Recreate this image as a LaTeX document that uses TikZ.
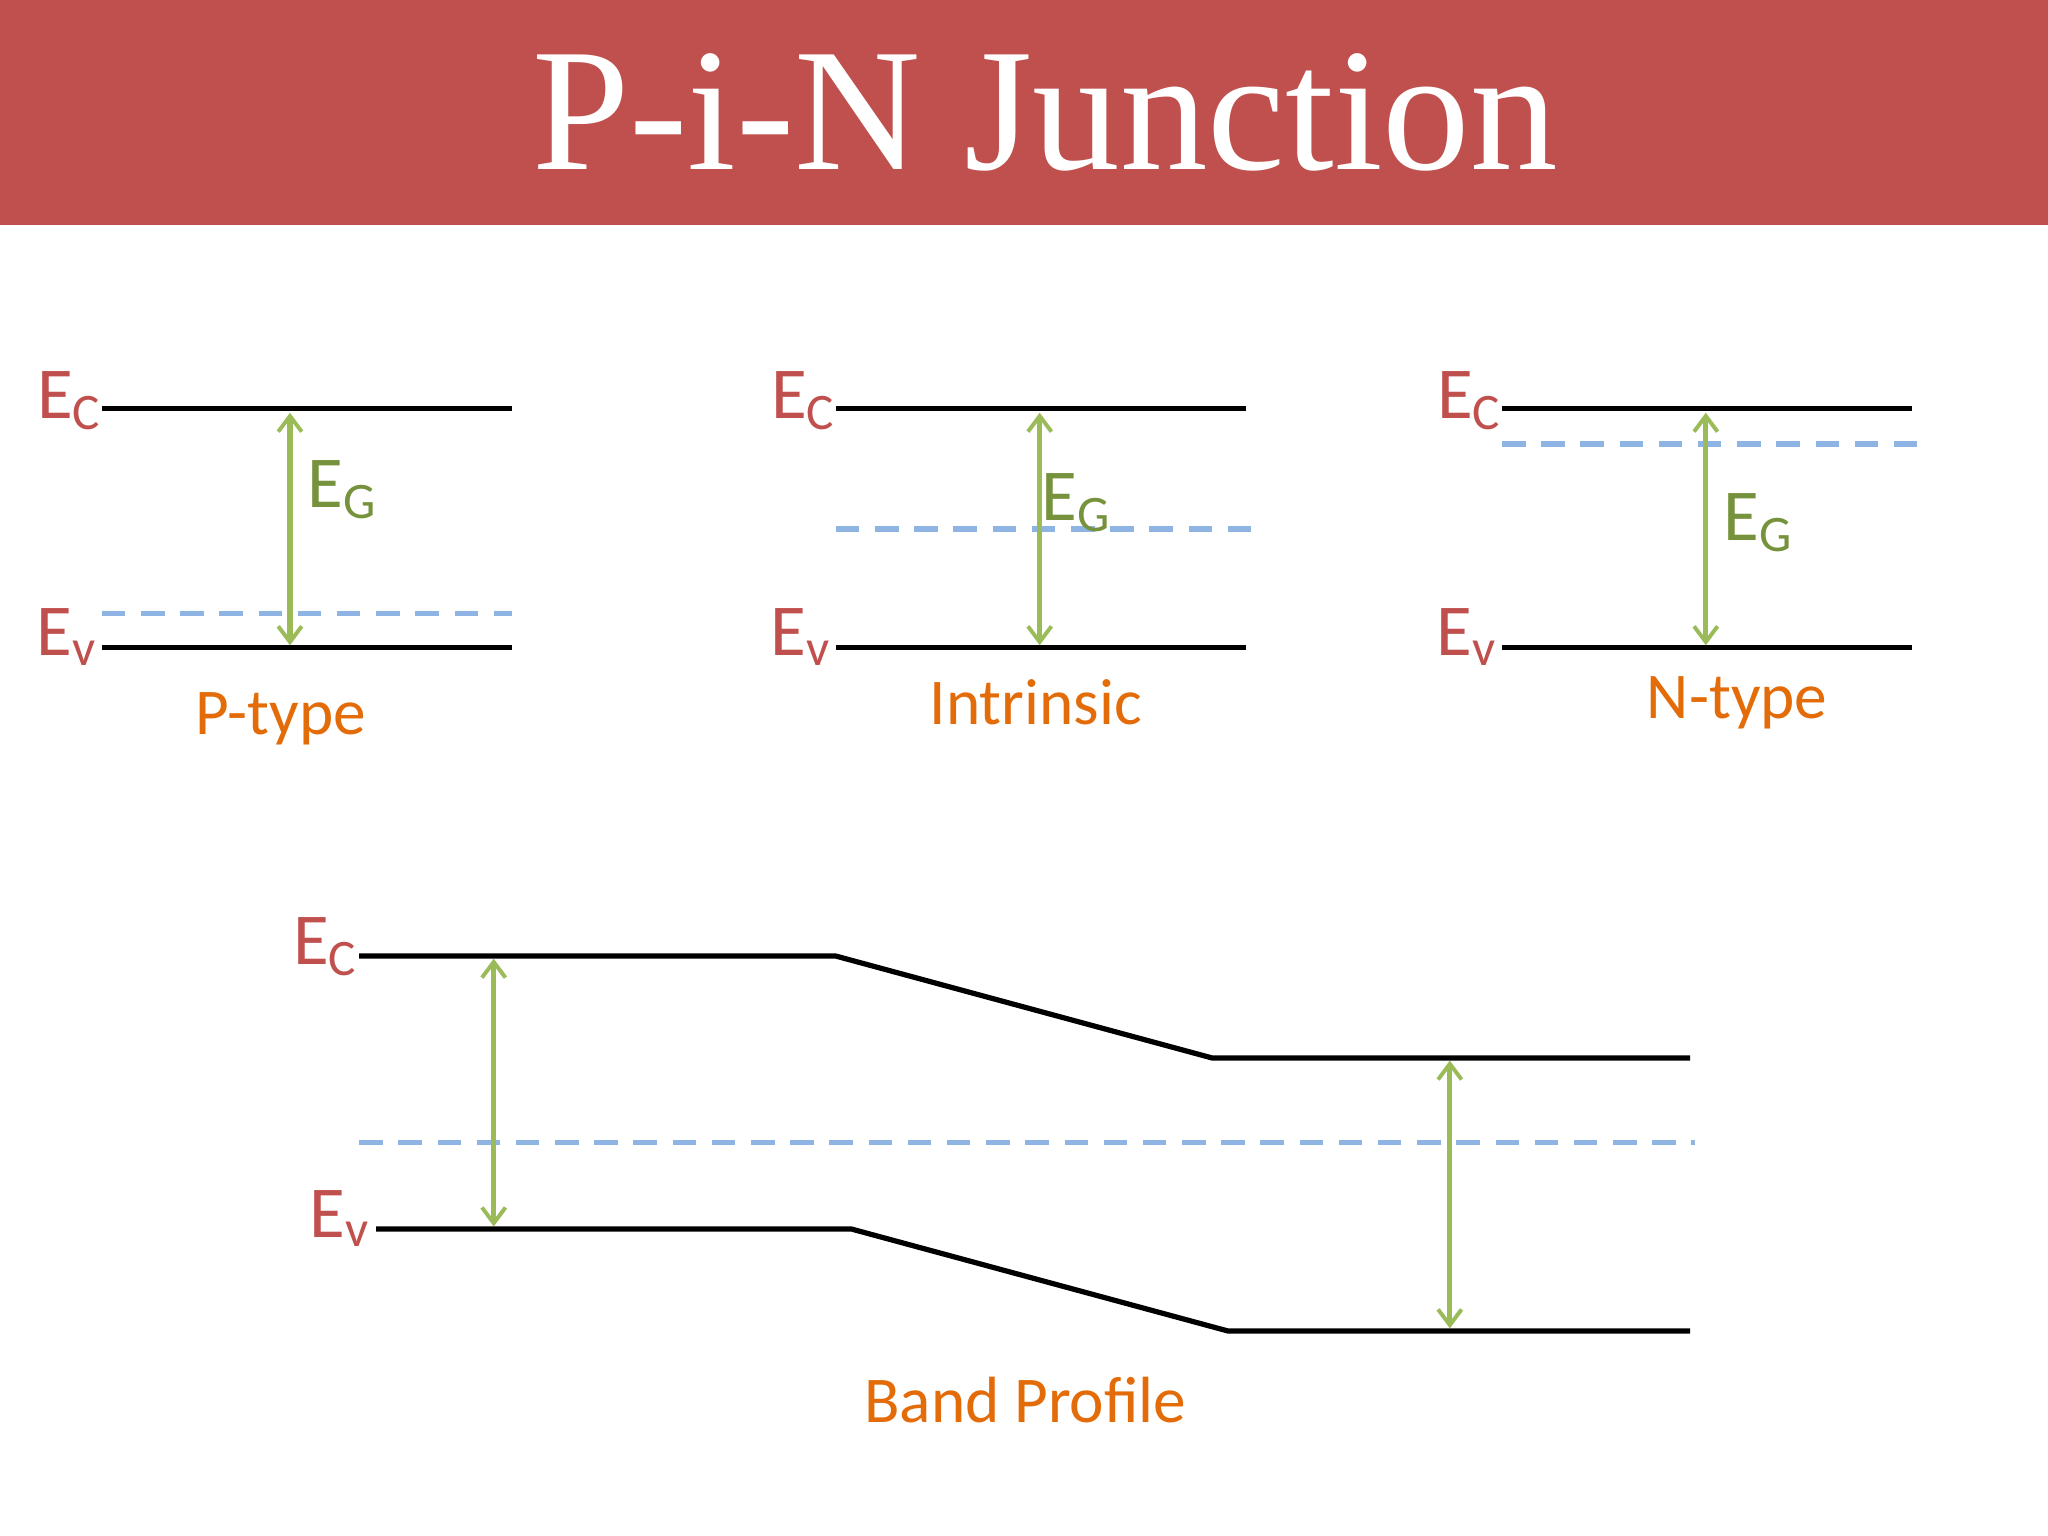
\documentclass[tikz,border=0pt]{standalone}
\usepackage{fontspec}
\setmainfont{Carlito}
\newfontfamily\titlefont{Liberation Serif}
\usetikzlibrary{arrows.meta}
\definecolor{barred}{HTML}{C0504D}
\definecolor{egreen}{HTML}{76923C}
\definecolor{agreen}{HTML}{9BBB59}
\definecolor{dblue}{HTML}{8EB4E3}
\definecolor{lorange}{HTML}{E36C09}
\tikzset{
 band/.style={line width=2pt,black},
 fermi/.style={line width=2pt,dblue,dash pattern=on 9pt off 6pt},
 gap/.style={line width=2pt,agreen,{Straight Barb[length=6pt,width=9pt,line width=1.5pt]}-{Straight Barb[length=6pt,width=9pt,line width=1.5pt]}},
 lvl/.style={text=barred,font=\fontsize{28}{30}\selectfont,inner sep=0pt},
 eg/.style={text=egreen,font=\fontsize{28}{30}\selectfont,inner sep=0pt},
 typ/.style={text=lorange,font=\fontsize{25}{28}\selectfont,inner sep=0pt}
}
\begin{document}
\begin{tikzpicture}[x=0.5pt,y=-0.5pt]
\useasboundingbox (0,0) rectangle (1568,1176);
\fill[white] (0,0) rectangle (1568,1176);
\fill[barred] (0,0) rectangle (1568,172);
\node[text=white,font=\titlefont\fontsize{67}{72}\selectfont] (title) at (800,86) {P-i-N Junction};
\foreach \n/\x/\f/\fx/\eg/\egy in {p/78/470/392/262/375, i/640/405/968/824/385, n/1150/340/1478/1346/400}{
 \coordinate (\n c1) at (\x,313); \coordinate (\n c2) at (\x+314,313);
 \coordinate (\n v1) at (\x,496); \coordinate (\n v2) at (\x+314,496);
 \coordinate (\n f1) at (\x,\f); \coordinate (\n f2) at (\fx,\f);
 \draw[band] (\n c1) -- (\n c2);
 \draw[band] (\n v1) -- (\n v2);
 \draw[fermi] (\n f1) -- (\n f2);
 \node[lvl] (\n ec) at (\x-25,307) {E\textsubscript{C}};
 \node[lvl] (\n ev) at (\x-27,488) {E\textsubscript{v}};
 \node[eg] (\n eg) at (\eg,\egy) {E\textsubscript{G}};
}
\coordinate (pa1) at (222,316); \coordinate (pa2) at (222,494);
\coordinate (ia1) at (796,316); \coordinate (ia2) at (796,494);
\coordinate (na1) at (1306,316); \coordinate (na2) at (1306,494);
\draw[gap] (pa1) -- (pa2);
\draw[gap] (ia1) -- (ia2);
\draw[gap] (na1) -- (na2);
\node[typ] (pt) at (215,550) {P-type};
\node[typ] (it) at (793,538) {Intrinsic};
\node[typ] (nt) at (1330,538) {N-type};
% Band profile
\coordinate (c1) at (275,732); \coordinate (c2) at (640,732); \coordinate (c3) at (928,810); \coordinate (c4) at (1294,810);
\coordinate (v1) at (288,941); \coordinate (v2) at (652,941); \coordinate (v3) at (940,1019); \coordinate (v4) at (1294,1019);
\coordinate (f1) at (275,875); \coordinate (f2) at (1298,875);
\draw[band] (c1) -- (c2) -- (c3) -- (c4);
\draw[band] (v1) -- (v2) -- (v3) -- (v4);
\draw[fermi] (f1) -- (f2);
\coordinate (a1) at (378,734); \coordinate (a2) at (378,939);
\coordinate (b1) at (1110,812); \coordinate (b2) at (1110,1017);
\draw[gap] (a1) -- (a2);
\draw[gap] (b1) -- (b2);
\node[lvl] (bec) at (249,725) {E\textsubscript{C}};
\node[lvl] (bev) at (260,933) {E\textsubscript{v}};
\node[typ] (bp) at (785,1072) {Band Profile};
\end{tikzpicture}
\end{document}
